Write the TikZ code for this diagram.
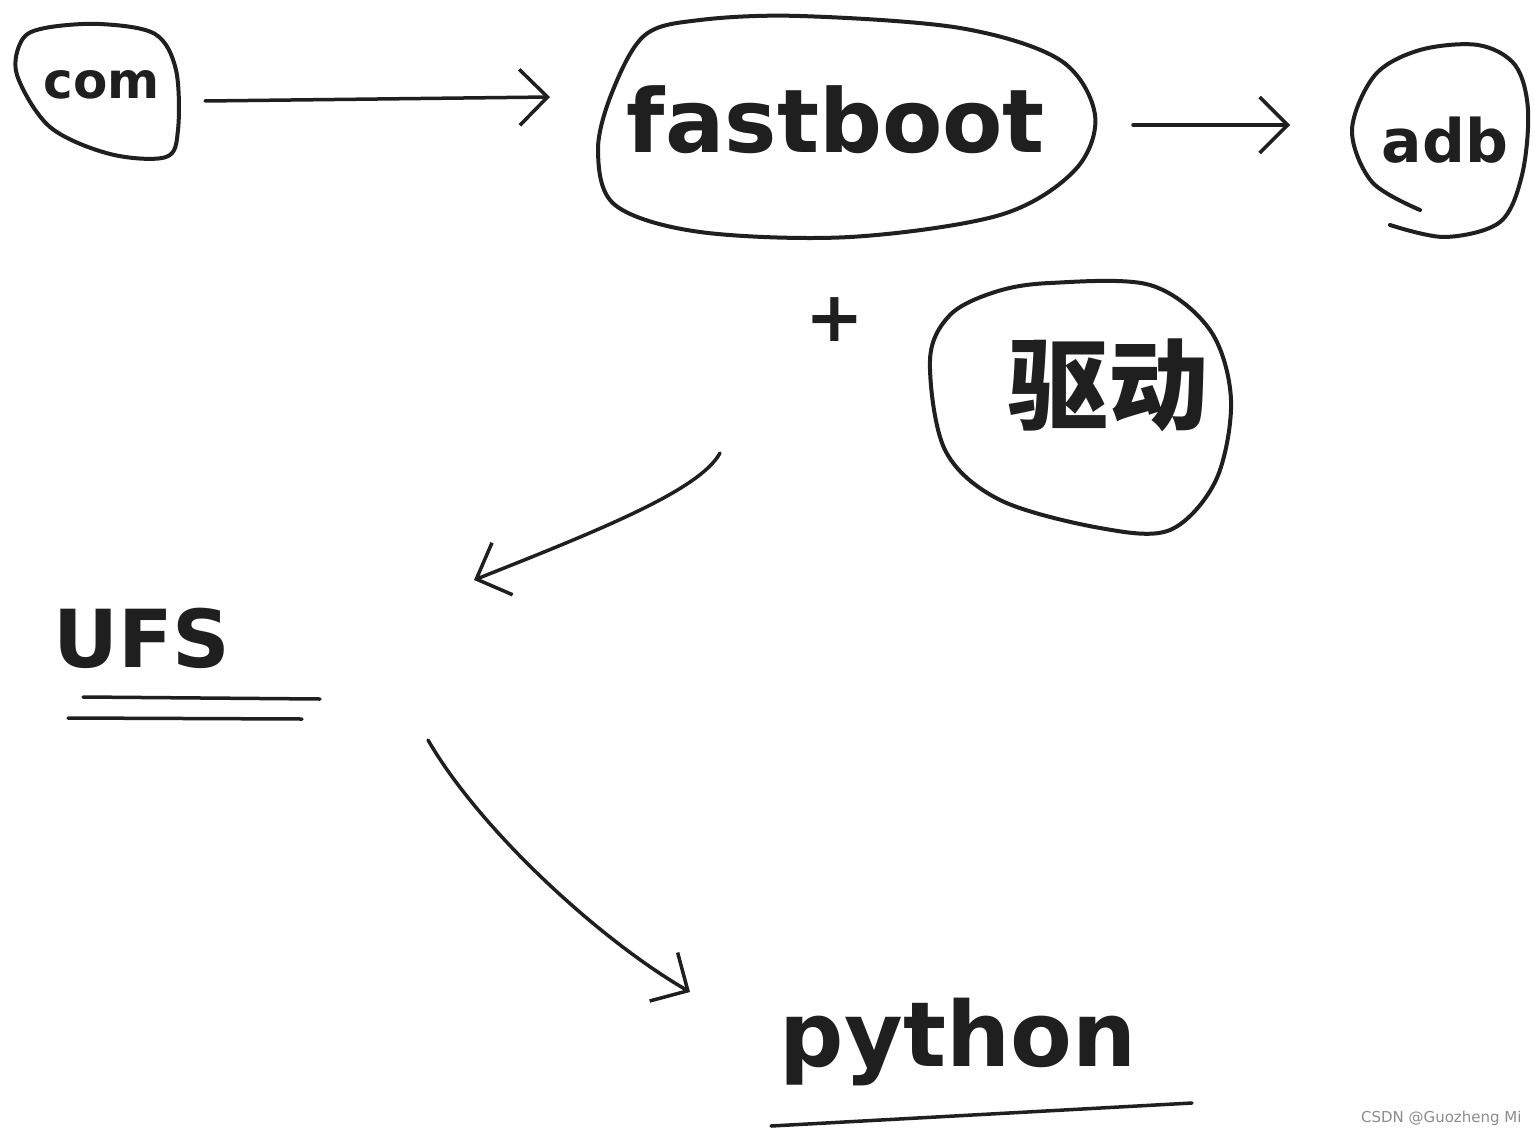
\documentclass[tikz,border=0pt]{standalone}
\usepackage{fontspec}
\setmainfont{DejaVu Sans}
\newfontfamily\cjk{Noto Sans CJK SC}
\usetikzlibrary{arrows.meta}
\begin{document}
\begin{tikzpicture}[x=1pt,y=-1pt,
  ink/.style={line width=4pt,line cap=round,line join=round,draw=black!88},
  hand/.style={text=black!88,font=\fontsize{#1}{#1}\selectfont\bfseries},
  barb/.style={-{Straight Barb[length=28pt,width=56pt,line width=3.5pt]}}]
\useasboundingbox[fill=white] (0,0) rectangle (1538,1137);
% shapes
\draw[ink] plot[smooth cycle,tension=0.55] coordinates {(100,24) (155,34) (176,70) (178,130) (166,157) (110,154) (50,127) (17,75) (22,40) (45,28)};
\draw[ink] plot[smooth cycle,tension=0.55] coordinates {(800,16) (960,28) (1060,60) (1095,115) (1075,170) (1000,215) (850,237) (700,232) (615,205) (598,150) (613,90) (645,35) (700,20)};
\draw[ink] plot[smooth,tension=0.55] coordinates {(1420,210) (1372,182) (1352,130) (1375,75) (1420,50) (1478,45) (1515,65) (1528,110) (1522,175) (1500,222) (1445,237) (1390,225)};
\draw[ink] plot[smooth cycle,tension=0.55] coordinates {(1050,283) (1150,285) (1210,330) (1231,400) (1216,480) (1170,530) (1100,528) (1000,500) (945,450) (930,360) (950,315) (995,292)};
% texts
\node[hand=50] (com) at (102,85) {com};
\node[hand=88] (fb) at (836,120) {fastboot};
\node[hand=60] (adb) at (1445,140) {adb};
\node[hand=70] (plus) at (835,320) {+};
\node[text=black!88,font=\fontsize{100}{100}\cjk\bfseries] (drv) at (1108,385) {驱动};
\node[hand=80] (ufs) at (142,638) {UFS};
\node[hand=90] (py) at (958,1042) {python};
\node[text=black!45,font=\fontsize{15}{15}\selectfont,anchor=east] (wm) at (1525,1118) {CSDN @Guozheng Mi};
% underlines
\coordinate (u1a) at (83,697); \coordinate (u1b) at (320,699);
\coordinate (u2a) at (68,718); \coordinate (u2b) at (302,719);
\coordinate (u3a) at (771,1126); \coordinate (u3b) at (1192,1103);
\draw[ink,line width=3.5pt] (u1a) -- (u1b);
\draw[ink,line width=3.5pt] (u2a) -- (u2b);
\draw[ink,line width=3.5pt] (u3a) -- (u3b);
% arrows
\coordinate (a1s) at (205,101); \coordinate (a1e) at (550,97);
\draw[ink,line width=3.5pt,barb] (a1s) -- (a1e);
\coordinate (a2s) at (1133,125); \coordinate (a2e) at (1290,125);
\draw[ink,line width=3.5pt,barb] (a2s) -- (a2e);
\coordinate (a3s) at (720,453); \coordinate (a3e) at (474,580);
\draw[ink,line width=3.5pt,barb] (a3s) .. controls (700,490) and (600,530) .. (a3e);
\coordinate (a4s) at (428,740); \coordinate (a4e) at (690,992);
\draw[ink,line width=3.5pt,barb] (a4s) .. controls (480,830) and (600,940) .. (a4e);
\end{tikzpicture}
\end{document}
